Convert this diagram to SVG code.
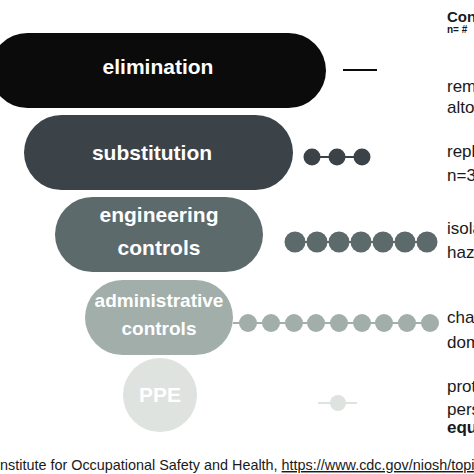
<svg xmlns="http://www.w3.org/2000/svg" width="474" height="474" viewBox="0 0 474 474">
<style>
.lbl{font-family:"Liberation Sans",Arial,sans-serif;font-weight:bold;fill:#ffffff;text-anchor:middle}
.rt{font-family:"Liberation Sans",Arial,sans-serif;font-size:17px;fill:#1a1a1a}
.b{font-weight:bold}
</style>
<rect width="474" height="474" fill="#ffffff"/>
<g id="elimination">
<rect x="-10" y="33" width="336" height="75" rx="37.5" fill="#0b0b0b"/>
<text class="lbl" x="158" y="74" font-size="21">elimination</text>
</g>
<g id="substitution">
<rect x="24" y="115" width="269" height="75" rx="37.5" fill="#3b4248"/>
<text class="lbl" x="152" y="160" font-size="21">substitution</text>
</g>
<g id="engineering">
<rect x="55" y="197" width="208" height="75" rx="37.5" fill="#5d6a6c"/>
<text class="lbl" x="159" y="222" font-size="21">engineering</text>
<text class="lbl" x="159" y="255" font-size="21">controls</text>
</g>
<g id="administrative">
<rect x="85" y="280" width="148" height="75" rx="37.5" fill="#a1aeaa"/>
<text class="lbl" x="159" y="307" font-size="19">administrative</text>
<text class="lbl" x="159" y="335" font-size="19">controls</text>
</g>
<g id="ppe">
<circle cx="160" cy="395" r="37" fill="#dee3e0"/>
<text class="lbl" x="160" y="402" font-size="21">PPE</text>
</g>
<g id="connectors">
<line x1="343" y1="70" x2="377" y2="70" stroke="#0b0b0b" stroke-width="2"/>
<g fill="#3b4248">
<line x1="312" y1="157" x2="362" y2="157" stroke="#3b4248" stroke-width="2"/>
<circle cx="312" cy="157" r="8.5"/><circle cx="337" cy="157" r="8.5"/><circle cx="362" cy="157" r="8.5"/>
</g>
<g fill="#5d6a6c">
<line x1="295" y1="242" x2="427" y2="242" stroke="#5d6a6c" stroke-width="2"/>
<circle cx="295" cy="242" r="10.5"/><circle cx="317" cy="242" r="10.5"/><circle cx="339" cy="242" r="10.5"/><circle cx="361" cy="242" r="10.5"/><circle cx="383" cy="242" r="10.5"/><circle cx="405" cy="242" r="10.5"/><circle cx="427" cy="242" r="10.5"/>
</g>
<g fill="#a1aeaa">
<line x1="233" y1="323" x2="430" y2="323" stroke="#a1aeaa" stroke-width="2"/>
<circle cx="248" cy="323" r="9"/><circle cx="271" cy="323" r="9"/><circle cx="294" cy="323" r="9"/><circle cx="316" cy="323" r="9"/><circle cx="339" cy="323" r="9"/><circle cx="362" cy="323" r="9"/><circle cx="384" cy="323" r="9"/><circle cx="407" cy="323" r="9"/><circle cx="430" cy="323" r="9"/>
</g>
<line x1="318" y1="403" x2="357" y2="403" stroke="#dee3e0" stroke-width="2"/>
<circle cx="338" cy="403" r="8" fill="#dee3e0"/>
</g>
<g id="legend">
<text class="rt b" x="447" y="22" style="font-size:15px">Con</text>
<text class="rt b" x="447" y="33" style="font-size:10px">n= #</text>
<text class="rt" x="447" y="92">rem</text>
<text class="rt" x="447" y="113">alto</text>
<text class="rt" x="447" y="157">rep<tspan class="b">l</tspan></text>
<text class="rt" x="447" y="181">n=3</text>
<text class="rt" x="447" y="234">isola</text>
<text class="rt" x="447" y="258">haz</text>
<text class="rt" x="447" y="323">cha</text>
<text class="rt" x="447" y="348">dom</text>
<text class="rt" x="447" y="392">prot</text>
<text class="rt" x="447" y="415">pers</text>
<text class="rt b" x="447" y="433">equ</text>
</g>
<g id="footer">
<text class="rt" x="0" y="470" style="font-size:14.4px">nstitute for Occupational Safety and Health, <tspan text-decoration="underline">https://www.cdc.gov/niosh/topic</tspan></text>
</g>
</svg>
